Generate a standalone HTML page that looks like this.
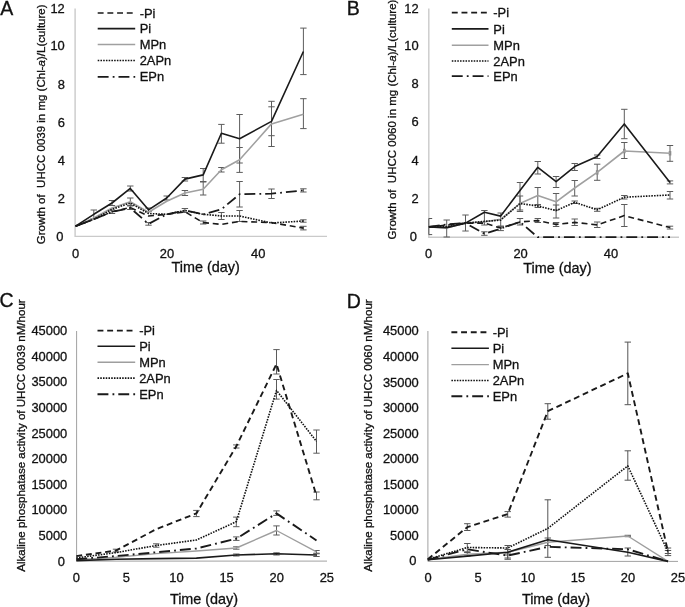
<!DOCTYPE html>
<html lang="en">
<head>
<meta charset="utf-8">
<title>Figure</title>
<style>
html,body{margin:0;padding:0;background:#fff;}
svg{display:block;}
svg text{font-family:"Liberation Sans", Arial, Helvetica, sans-serif;fill:#111;stroke:#111;stroke-width:0.3px;}
</style>
</head>
<body>
<svg width="685" height="607" viewBox="0 0 685 607">
<rect width="685" height="607" fill="#fff"/>
<text x="0.3" y="14.5" font-size="19.5" text-anchor="start">A</text>
<path d="M75.1 8.6V236.4H327.0" fill="none" stroke="#cacaca" stroke-width="1.4"/>
<text x="64.8" y="12.6" font-size="12.9" text-anchor="end">12</text>
<text x="64.8" y="49.5" font-size="12.9" text-anchor="end">10</text>
<text x="64.8" y="88.6" font-size="12.9" text-anchor="end">8</text>
<text x="64.8" y="126.6" font-size="12.9" text-anchor="end">6</text>
<text x="64.8" y="164.6" font-size="12.9" text-anchor="end">4</text>
<text x="64.8" y="202.6" font-size="12.9" text-anchor="end">2</text>
<text x="63.5" y="240.5" font-size="12.9" text-anchor="end">0</text>
<text x="75.5" y="257.9" font-size="12.9" text-anchor="middle">0</text>
<text x="167.0" y="257.9" font-size="12.9" text-anchor="middle">20</text>
<text x="258.2" y="257.9" font-size="12.9" text-anchor="middle">40</text>
<text x="205.7" y="271.7" font-size="14.4" text-anchor="middle">Time (day)</text>
<text transform="translate(44.7,244.2) rotate(-90)" font-size="11.5" textLength="239.8" lengthAdjust="spacingAndGlyphs" xml:space="preserve">Growth of  UHCC 0039 in mg (Chl-<tspan font-style="italic">a</tspan>)/L(culture)</text>
<path d="M93.8 210.0V218.5M90.6 210.0h6.4M90.6 218.5h6.4" fill="none" stroke="#5c5c5c" stroke-width="1"/>
<path d="M112.0 200.5V205.5M108.8 200.5h6.4M108.8 205.5h6.4" fill="none" stroke="#5c5c5c" stroke-width="1"/>
<path d="M130.3 186.0V191.0M127.1 186.0h6.4M127.1 191.0h6.4" fill="none" stroke="#5c5c5c" stroke-width="1"/>
<path d="M148.5 208.0V211.5M145.3 208.0h6.4M145.3 211.5h6.4" fill="none" stroke="#5c5c5c" stroke-width="1"/>
<path d="M166.7 196.0V200.0M163.5 196.0h6.4M163.5 200.0h6.4" fill="none" stroke="#5c5c5c" stroke-width="1"/>
<path d="M184.9 177.5V181.0M181.7 177.5h6.4M181.7 181.0h6.4" fill="none" stroke="#5c5c5c" stroke-width="1"/>
<path d="M203.2 168.5V181.5M200.0 168.5h6.4M200.0 181.5h6.4" fill="none" stroke="#5c5c5c" stroke-width="1"/>
<path d="M221.4 124.4V143.2M218.2 124.4h6.4M218.2 143.2h6.4" fill="none" stroke="#5c5c5c" stroke-width="1"/>
<path d="M239.6 114.5V163.0M236.4 114.5h6.4M236.4 163.0h6.4" fill="none" stroke="#5c5c5c" stroke-width="1"/>
<path d="M271.5 101.3V146.5M268.3 101.3h6.4M268.3 146.5h6.4" fill="none" stroke="#5c5c5c" stroke-width="1"/>
<path d="M303.4 28.1V74.6M300.2 28.1h6.4M300.2 74.6h6.4" fill="none" stroke="#5c5c5c" stroke-width="1"/>
<path d="M130.3 198.0V205.5M127.1 198.0h6.4M127.1 205.5h6.4" fill="none" stroke="#5c5c5c" stroke-width="1"/>
<path d="M184.9 190.5V195.5M181.7 190.5h6.4M181.7 195.5h6.4" fill="none" stroke="#5c5c5c" stroke-width="1"/>
<path d="M203.2 182.0V195.0M200.0 182.0h6.4M200.0 195.0h6.4" fill="none" stroke="#5c5c5c" stroke-width="1"/>
<path d="M221.4 167.5V172.0M218.2 167.5h6.4M218.2 172.0h6.4" fill="none" stroke="#5c5c5c" stroke-width="1"/>
<path d="M239.6 147.5V172.4M236.4 147.5h6.4M236.4 172.4h6.4" fill="none" stroke="#5c5c5c" stroke-width="1"/>
<path d="M271.5 106.8V135.7M268.3 106.8h6.4M268.3 135.7h6.4" fill="none" stroke="#5c5c5c" stroke-width="1"/>
<path d="M303.4 98.7V128.6M300.2 98.7h6.4M300.2 128.6h6.4" fill="none" stroke="#5c5c5c" stroke-width="1"/>
<path d="M239.6 181.5V207.0M236.4 181.5h6.4M236.4 207.0h6.4" fill="none" stroke="#5c5c5c" stroke-width="1"/>
<path d="M271.5 189.0V198.5M268.3 189.0h6.4M268.3 198.5h6.4" fill="none" stroke="#5c5c5c" stroke-width="1"/>
<path d="M303.4 188.8V192.0M300.2 188.8h6.4M300.2 192.0h6.4" fill="none" stroke="#5c5c5c" stroke-width="1"/>
<path d="M221.4 212.5V219.5M218.2 212.5h6.4M218.2 219.5h6.4" fill="none" stroke="#5c5c5c" stroke-width="1"/>
<path d="M239.6 210.5V221.5M236.4 210.5h6.4M236.4 221.5h6.4" fill="none" stroke="#5c5c5c" stroke-width="1"/>
<path d="M303.4 219.8V222.2M300.2 219.8h6.4M300.2 222.2h6.4" fill="none" stroke="#5c5c5c" stroke-width="1"/>
<path d="M303.4 226.3V229.9M300.2 226.3h6.4M300.2 229.9h6.4" fill="none" stroke="#5c5c5c" stroke-width="1"/>
<path d="M148.5 222.6V225.2M145.3 222.6h6.4M145.3 225.2h6.4" fill="none" stroke="#5c5c5c" stroke-width="1"/>
<path d="M184.9 208.5V212.5M181.7 208.5h6.4M181.7 212.5h6.4" fill="none" stroke="#5c5c5c" stroke-width="1"/>
<path d="M203.2 221.0V224.0M200.0 221.0h6.4M200.0 224.0h6.4" fill="none" stroke="#5c5c5c" stroke-width="1"/>
<path d="M112.0 210.0V213.5M108.8 210.0h6.4M108.8 213.5h6.4" fill="none" stroke="#5c5c5c" stroke-width="1"/>
<path d="M130.3 206.0V209.5M127.1 206.0h6.4M127.1 209.5h6.4" fill="none" stroke="#5c5c5c" stroke-width="1"/>
<polyline points="75.6,226.2 93.8,218.0 112.0,208.0 130.3,201.8 148.5,212.3 166.7,201.3 184.9,193.0 203.2,189.2 221.4,169.8 239.6,159.8 271.5,123.9 303.4,114.3" fill="none" stroke="#a0a0a0" stroke-width="1.6" stroke-linejoin="round"/>
<polyline points="75.6,226.2 93.8,219.3 112.0,209.3 130.3,203.0 148.5,213.5 166.7,214.3 184.9,210.5 203.2,214.3 221.4,216.0 239.6,216.0 271.5,223.0 303.4,221.0" fill="none" stroke="#111" stroke-width="1.6" stroke-linejoin="round" stroke-dasharray="1.55 1.19"/>
<polyline points="75.6,226.2 93.8,219.3 112.0,211.8 130.3,207.5 148.5,216.0 166.7,214.3 184.9,211.8 203.2,222.6 221.4,224.4 239.6,221.4 271.5,222.6 303.4,228.1" fill="none" stroke="#1a1a1a" stroke-width="1.6" stroke-linejoin="round" stroke-dasharray="5.9 3.8"/>
<polyline points="75.6,226.2 93.8,219.3 112.0,211.8 130.3,208.0 148.5,223.9 166.7,214.3 184.9,210.5 203.2,214.3 221.4,209.3 239.6,194.2 271.5,193.7 303.4,190.4" fill="none" stroke="#1a1a1a" stroke-width="1.8" stroke-linejoin="round" stroke-dasharray="10.9 4.1 1.8 4.0"/>
<polyline points="75.6,226.2 93.8,214.3 112.0,203.0 130.3,188.4 148.5,209.8 166.7,198.0 184.9,179.1 203.2,174.9 221.4,133.2 239.6,138.7 271.5,121.4 303.4,51.5" fill="none" stroke="#1a1a1a" stroke-width="1.6" stroke-linejoin="round"/>
<polyline points="97.7,13.0 135.2,13.0" fill="none" stroke="#1a1a1a" stroke-width="1.6" stroke-linejoin="round" stroke-dasharray="5.9 3.8"/>
<text x="139.7" y="17.6" font-size="12.9" text-anchor="start">-Pi</text>
<polyline points="97.7,28.6 135.2,28.6" fill="none" stroke="#1a1a1a" stroke-width="1.6" stroke-linejoin="round"/>
<text x="139.7" y="33.2" font-size="12.9" text-anchor="start">Pi</text>
<polyline points="97.7,44.5 135.2,44.5" fill="none" stroke="#a0a0a0" stroke-width="1.6" stroke-linejoin="round"/>
<text x="139.7" y="49.1" font-size="12.9" text-anchor="start">MPn</text>
<polyline points="97.7,60.5 135.2,60.5" fill="none" stroke="#111" stroke-width="1.6" stroke-linejoin="round" stroke-dasharray="1.55 1.19"/>
<text x="139.7" y="65.1" font-size="12.9" text-anchor="start">2APn</text>
<polyline points="97.7,76.8 135.2,76.8" fill="none" stroke="#1a1a1a" stroke-width="1.8" stroke-linejoin="round" stroke-dasharray="10.9 4.1 1.8 4.0"/>
<text x="139.7" y="81.4" font-size="12.9" text-anchor="start">EPn</text>
<text x="346.8" y="14.5" font-size="19.5" text-anchor="start">B</text>
<path d="M428.8 8.5V237.2H679.0" fill="none" stroke="#cacaca" stroke-width="1.4"/>
<text x="418.6" y="12.6" font-size="12.9" text-anchor="end">12</text>
<text x="418.6" y="49.6" font-size="12.9" text-anchor="end">10</text>
<text x="418.6" y="88.1" font-size="12.9" text-anchor="end">8</text>
<text x="418.6" y="126.3" font-size="12.9" text-anchor="end">6</text>
<text x="418.6" y="164.6" font-size="12.9" text-anchor="end">4</text>
<text x="418.6" y="202.6" font-size="12.9" text-anchor="end">2</text>
<text x="417.0" y="240.9" font-size="12.9" text-anchor="end">0</text>
<text x="428.5" y="258.3" font-size="12.9" text-anchor="middle">0</text>
<text x="520.6" y="258.3" font-size="12.9" text-anchor="middle">20</text>
<text x="610.9" y="258.3" font-size="12.9" text-anchor="middle">40</text>
<text x="557.4" y="272.8" font-size="14.4" text-anchor="middle">Time (day)</text>
<text transform="translate(396,239.4) rotate(-90)" font-size="11.5" textLength="239.8" lengthAdjust="spacingAndGlyphs" xml:space="preserve">Growth of  UHCC 0060 in mg (Chl-<tspan font-style="italic">a</tspan>)/L(culture)</text>
<path d="M446.7 220.0V237.0M443.5 220.0h6.4M443.5 237.0h6.4" fill="none" stroke="#5c5c5c" stroke-width="1"/>
<path d="M465.5 215.0V231.0M462.3 215.0h6.4M462.3 231.0h6.4" fill="none" stroke="#5c5c5c" stroke-width="1"/>
<path d="M484.4 210.5V225.0M481.2 210.5h6.4M481.2 225.0h6.4" fill="none" stroke="#5c5c5c" stroke-width="1"/>
<path d="M500.7 213.0V226.0M497.5 213.0h6.4M497.5 226.0h6.4" fill="none" stroke="#5c5c5c" stroke-width="1"/>
<path d="M520.0 182.5V211.5M516.8 182.5h6.4M516.8 211.5h6.4" fill="none" stroke="#5c5c5c" stroke-width="1"/>
<path d="M537.8 161.5V174.0M534.6 161.5h6.4M534.6 174.0h6.4" fill="none" stroke="#5c5c5c" stroke-width="1"/>
<path d="M556.1 176.5V187.5M552.9 176.5h6.4M552.9 187.5h6.4" fill="none" stroke="#5c5c5c" stroke-width="1"/>
<path d="M574.7 163.5V170.5M571.5 163.5h6.4M571.5 170.5h6.4" fill="none" stroke="#5c5c5c" stroke-width="1"/>
<path d="M597.2 155.0V158.5M594.0 155.0h6.4M594.0 158.5h6.4" fill="none" stroke="#5c5c5c" stroke-width="1"/>
<path d="M624.3 109.3V138.7M621.1 109.3h6.4M621.1 138.7h6.4" fill="none" stroke="#5c5c5c" stroke-width="1"/>
<path d="M670.0 180.9V183.9M666.8 180.9h6.4M666.8 183.9h6.4" fill="none" stroke="#5c5c5c" stroke-width="1"/>
<path d="M520.0 196.0V210.0M516.8 196.0h6.4M516.8 210.0h6.4" fill="none" stroke="#5c5c5c" stroke-width="1"/>
<path d="M537.8 187.5V205.0M534.6 187.5h6.4M534.6 205.0h6.4" fill="none" stroke="#5c5c5c" stroke-width="1"/>
<path d="M556.1 193.5V210.0M552.9 193.5h6.4M552.9 210.0h6.4" fill="none" stroke="#5c5c5c" stroke-width="1"/>
<path d="M574.7 180.5V196.0M571.5 180.5h6.4M571.5 196.0h6.4" fill="none" stroke="#5c5c5c" stroke-width="1"/>
<path d="M597.2 164.2V180.3M594.0 164.2h6.4M594.0 180.3h6.4" fill="none" stroke="#5c5c5c" stroke-width="1"/>
<path d="M624.3 142.5V158.5M621.1 142.5h6.4M621.1 158.5h6.4" fill="none" stroke="#5c5c5c" stroke-width="1"/>
<path d="M670.0 145.5V161.3M666.8 145.5h6.4M666.8 161.3h6.4" fill="none" stroke="#5c5c5c" stroke-width="1"/>
<path d="M556.1 205.0V218.0M552.9 205.0h6.4M552.9 218.0h6.4" fill="none" stroke="#5c5c5c" stroke-width="1"/>
<path d="M624.3 195.5V199.0M621.1 195.5h6.4M621.1 199.0h6.4" fill="none" stroke="#5c5c5c" stroke-width="1"/>
<path d="M670.0 191.5V199.0M666.8 191.5h6.4M666.8 199.0h6.4" fill="none" stroke="#5c5c5c" stroke-width="1"/>
<path d="M537.8 204.5V207.5M534.6 204.5h6.4M534.6 207.5h6.4" fill="none" stroke="#5c5c5c" stroke-width="1"/>
<path d="M597.2 208.3V211.3M594.0 208.3h6.4M594.0 211.3h6.4" fill="none" stroke="#5c5c5c" stroke-width="1"/>
<path d="M574.7 201.0V203.5M571.5 201.0h6.4M571.5 203.5h6.4" fill="none" stroke="#5c5c5c" stroke-width="1"/>
<path d="M520.0 218.5V225.0M516.8 218.5h6.4M516.8 225.0h6.4" fill="none" stroke="#5c5c5c" stroke-width="1"/>
<path d="M537.8 218.5V222.5M534.6 218.5h6.4M534.6 222.5h6.4" fill="none" stroke="#5c5c5c" stroke-width="1"/>
<path d="M556.1 222.5V226.5M552.9 222.5h6.4M552.9 226.5h6.4" fill="none" stroke="#5c5c5c" stroke-width="1"/>
<path d="M574.7 219.0V225.5M571.5 219.0h6.4M571.5 225.5h6.4" fill="none" stroke="#5c5c5c" stroke-width="1"/>
<path d="M597.2 222.0V227.5M594.0 222.0h6.4M594.0 227.5h6.4" fill="none" stroke="#5c5c5c" stroke-width="1"/>
<path d="M624.3 204.5V226.5M621.1 204.5h6.4M621.1 226.5h6.4" fill="none" stroke="#5c5c5c" stroke-width="1"/>
<path d="M670.0 226.2V229.0M666.8 226.2h6.4M666.8 229.0h6.4" fill="none" stroke="#5c5c5c" stroke-width="1"/>
<path d="M484.4 231.8V235.3M481.2 231.8h6.4M481.2 235.3h6.4" fill="none" stroke="#5c5c5c" stroke-width="1"/>
<path d="M500.7 226.6V230.6M497.5 226.6h6.4M497.5 230.6h6.4" fill="none" stroke="#5c5c5c" stroke-width="1"/>
<path d="M428.8 218.5V234.6M428.8 218.5h3.4M428.8 234.6h3.4" fill="none" stroke="#555" stroke-width="1"/>
<rect x="595.9" y="170.2" width="2.6" height="4.4" fill="#8c8c8c"/>
<rect x="623.0" y="148.8" width="2.6" height="4.4" fill="#8c8c8c"/>
<rect x="668.7" y="151.1" width="2.6" height="4.4" fill="#8c8c8c"/>
<polyline points="428.9,226.9 446.7,228.0 465.5,223.1 484.4,221.9 500.7,219.3 520.0,203.5 537.8,195.5 556.1,201.8 574.7,188.0 597.2,172.4 624.3,151.0 670.0,153.3" fill="none" stroke="#a0a0a0" stroke-width="1.6" stroke-linejoin="round"/>
<polyline points="428.9,226.9 446.7,226.9 465.5,223.1 484.4,221.4 500.7,220.1 520.0,203.5 537.8,206.0 556.1,210.6 574.7,202.3 597.2,209.8 624.3,197.2 670.0,195.0" fill="none" stroke="#111" stroke-width="1.6" stroke-linejoin="round" stroke-dasharray="1.55 1.19"/>
<polyline points="428.9,226.9 446.7,225.1 465.5,223.1 484.4,223.1 500.7,228.1 520.0,221.9 537.8,220.6 556.1,224.4 574.7,222.4 597.2,224.9 624.3,215.6 670.0,227.6" fill="none" stroke="#1a1a1a" stroke-width="1.6" stroke-linejoin="round" stroke-dasharray="5.9 3.8"/>
<polyline points="428.9,226.9 446.7,224.4 465.5,223.1 484.4,233.7 500.7,228.6 520.0,221.9 537.8,237.2 556.1,237.2 574.7,237.2 597.2,237.2 624.3,237.2 670.0,237.2" fill="none" stroke="#1a1a1a" stroke-width="1.8" stroke-linejoin="round" stroke-dasharray="10.9 4.1 1.8 4.0"/>
<polyline points="428.9,226.9 446.7,227.6 465.5,223.1 484.4,212.3 500.7,216.1 520.0,190.5 537.8,167.3 556.1,181.7 574.7,166.6 597.2,156.5 624.3,123.9 670.0,182.4" fill="none" stroke="#1a1a1a" stroke-width="1.6" stroke-linejoin="round"/>
<polyline points="451.8,12.6 488.5,12.6" fill="none" stroke="#1a1a1a" stroke-width="1.6" stroke-linejoin="round" stroke-dasharray="5.9 3.8"/>
<text x="493.3" y="17.2" font-size="12.9" text-anchor="start">-Pi</text>
<polyline points="451.8,28.9 488.5,28.9" fill="none" stroke="#1a1a1a" stroke-width="1.6" stroke-linejoin="round"/>
<text x="493.3" y="33.5" font-size="12.9" text-anchor="start">Pi</text>
<polyline points="451.8,45.2 488.5,45.2" fill="none" stroke="#a0a0a0" stroke-width="1.6" stroke-linejoin="round"/>
<text x="493.3" y="49.8" font-size="12.9" text-anchor="start">MPn</text>
<polyline points="451.8,61.0 488.5,61.0" fill="none" stroke="#111" stroke-width="1.6" stroke-linejoin="round" stroke-dasharray="1.55 1.19"/>
<text x="493.3" y="65.6" font-size="12.9" text-anchor="start">2APn</text>
<polyline points="451.8,76.1 488.5,76.1" fill="none" stroke="#1a1a1a" stroke-width="1.8" stroke-linejoin="round" stroke-dasharray="10.9 4.1 1.8 4.0"/>
<text x="493.3" y="80.7" font-size="12.9" text-anchor="start">EPn</text>
<text x="-0.4" y="307.0" font-size="19.5" text-anchor="start">C</text>
<path d="M76.6 331.0V561.1H327.0" fill="none" stroke="#a2a2a2" stroke-width="1.0"/>
<text x="67.3" y="335.2" font-size="12.9" text-anchor="end">45000</text>
<text x="67.3" y="360.8" font-size="12.9" text-anchor="end">40000</text>
<text x="67.3" y="386.4" font-size="12.9" text-anchor="end">35000</text>
<text x="67.3" y="412.0" font-size="12.9" text-anchor="end">30000</text>
<text x="67.3" y="437.6" font-size="12.9" text-anchor="end">25000</text>
<text x="67.3" y="463.2" font-size="12.9" text-anchor="end">20000</text>
<text x="67.3" y="488.8" font-size="12.9" text-anchor="end">15000</text>
<text x="67.3" y="514.4" font-size="12.9" text-anchor="end">10000</text>
<text x="67.3" y="540.0" font-size="12.9" text-anchor="end">5000</text>
<text x="65.0" y="565.6" font-size="12.9" text-anchor="end">0</text>
<text x="76.3" y="582.3" font-size="12.9" text-anchor="middle">0</text>
<text x="126.4" y="582.3" font-size="12.9" text-anchor="middle">5</text>
<text x="176.5" y="582.3" font-size="12.9" text-anchor="middle">10</text>
<text x="226.6" y="582.3" font-size="12.9" text-anchor="middle">15</text>
<text x="276.7" y="582.3" font-size="12.9" text-anchor="middle">20</text>
<text x="326.8" y="582.3" font-size="12.9" text-anchor="middle">25</text>
<text x="204.0" y="603.6" font-size="14.4" text-anchor="middle">Time (day)</text>
<text transform="translate(25,571.8) rotate(-90)" font-size="11.5" textLength="272.5" lengthAdjust="spacingAndGlyphs">Alkaline phosphatase activity of UHCC 0039 nM/hour</text>
<path d="M276.5 349.6V374.0M273.3 349.6h6.4M273.3 374.0h6.4" fill="none" stroke="#5c5c5c" stroke-width="1"/>
<path d="M276.5 379.5V399.1M273.3 379.5h6.4M273.3 399.1h6.4" fill="none" stroke="#5c5c5c" stroke-width="1"/>
<path d="M316.5 430.0V453.2M313.3 430.0h6.4M313.3 453.2h6.4" fill="none" stroke="#5c5c5c" stroke-width="1"/>
<path d="M236.3 444.9V448.0M233.1 444.9h6.4M233.1 448.0h6.4" fill="none" stroke="#5c5c5c" stroke-width="1"/>
<path d="M196.4 510.4V516.6M193.2 510.4h6.4M193.2 516.6h6.4" fill="none" stroke="#5c5c5c" stroke-width="1"/>
<path d="M276.5 510.9V515.4M273.3 510.9h6.4M273.3 515.4h6.4" fill="none" stroke="#5c5c5c" stroke-width="1"/>
<path d="M276.5 525.9V535.0M273.3 525.9h6.4M273.3 535.0h6.4" fill="none" stroke="#5c5c5c" stroke-width="1"/>
<path d="M316.5 492.0V499.8M313.3 492.0h6.4M313.3 499.8h6.4" fill="none" stroke="#5c5c5c" stroke-width="1"/>
<path d="M236.3 517.1V526.7M233.1 517.1h6.4M233.1 526.7h6.4" fill="none" stroke="#5c5c5c" stroke-width="1"/>
<path d="M236.3 536.9V540.4M233.1 536.9h6.4M233.1 540.4h6.4" fill="none" stroke="#5c5c5c" stroke-width="1"/>
<path d="M156.2 543.8V547.2M153.0 543.8h6.4M153.0 547.2h6.4" fill="none" stroke="#5c5c5c" stroke-width="1"/>
<path d="M116.0 549.2V552.0M112.8 549.2h6.4M112.8 552.0h6.4" fill="none" stroke="#5c5c5c" stroke-width="1"/>
<path d="M236.3 546.8V549.2M233.1 546.8h6.4M233.1 549.2h6.4" fill="none" stroke="#5c5c5c" stroke-width="1"/>
<path d="M316.5 550.5V553.2M313.3 550.5h6.4M313.3 553.2h6.4" fill="none" stroke="#5c5c5c" stroke-width="1"/>
<path d="M316.5 553.8V556.5M313.3 553.8h6.4M313.3 556.5h6.4" fill="none" stroke="#5c5c5c" stroke-width="1"/>
<path d="M276.5 552.8V555.0M273.3 552.8h6.4M273.3 555.0h6.4" fill="none" stroke="#5c5c5c" stroke-width="1"/>
<path d="M236.3 554.0V556.0M233.1 554.0h6.4M233.1 556.0h6.4" fill="none" stroke="#5c5c5c" stroke-width="1"/>
<polyline points="76.3,560.0 116.0,557.3 156.2,553.6 196.4,551.0 236.3,548.0 276.5,530.5 316.5,551.8" fill="none" stroke="#9e9e9e" stroke-width="1.4" stroke-linejoin="round"/>
<polyline points="76.3,558.0 116.0,552.6 156.2,545.5 196.4,540.0 236.3,521.7 276.5,390.4 316.5,441.4" fill="none" stroke="#111" stroke-width="1.6" stroke-linejoin="round" stroke-dasharray="1.55 1.19"/>
<polyline points="76.3,556.1 116.0,550.6 156.2,529.2 196.4,513.4 236.3,446.3 276.5,364.0 316.5,495.8" fill="none" stroke="#1a1a1a" stroke-width="1.9" stroke-linejoin="round" stroke-dasharray="5.9 3.8"/>
<polyline points="76.3,559.3 116.0,556.0 156.2,552.3 196.4,548.5 236.3,538.7 276.5,513.4 316.5,540.5" fill="none" stroke="#1a1a1a" stroke-width="1.9" stroke-linejoin="round" stroke-dasharray="10.9 4.1 1.8 4.0"/>
<polyline points="76.3,560.6 116.0,559.3 156.2,558.6 196.4,558.1 236.3,555.0 276.5,553.8 316.5,555.0" fill="none" stroke="#1a1a1a" stroke-width="1.6" stroke-linejoin="round"/>
<polyline points="97.5,330.6 135.2,330.6" fill="none" stroke="#1a1a1a" stroke-width="1.9" stroke-linejoin="round" stroke-dasharray="5.9 3.8"/>
<text x="139.2" y="335.2" font-size="12.9" text-anchor="start">-Pi</text>
<polyline points="97.5,346.3 135.2,346.3" fill="none" stroke="#1a1a1a" stroke-width="1.6" stroke-linejoin="round"/>
<text x="139.2" y="350.9" font-size="12.9" text-anchor="start">Pi</text>
<polyline points="97.5,362.3 135.2,362.3" fill="none" stroke="#9e9e9e" stroke-width="1.4" stroke-linejoin="round"/>
<text x="139.2" y="366.9" font-size="12.9" text-anchor="start">MPn</text>
<polyline points="97.5,378.1 135.2,378.1" fill="none" stroke="#111" stroke-width="1.6" stroke-linejoin="round" stroke-dasharray="1.55 1.19"/>
<text x="139.2" y="382.7" font-size="12.9" text-anchor="start">2APn</text>
<polyline points="97.5,394.3 135.2,394.3" fill="none" stroke="#1a1a1a" stroke-width="1.9" stroke-linejoin="round" stroke-dasharray="10.9 4.1 1.8 4.0"/>
<text x="139.2" y="398.9" font-size="12.9" text-anchor="start">EPn</text>
<text x="346.8" y="307.7" font-size="19.5" text-anchor="start">D</text>
<path d="M427.9 331.0V561.4H678.0" fill="none" stroke="#a2a2a2" stroke-width="1.0"/>
<text x="418.8" y="335.4" font-size="12.9" text-anchor="end">45000</text>
<text x="418.8" y="360.9" font-size="12.9" text-anchor="end">40000</text>
<text x="418.8" y="386.5" font-size="12.9" text-anchor="end">35000</text>
<text x="418.8" y="412.1" font-size="12.9" text-anchor="end">30000</text>
<text x="418.8" y="437.6" font-size="12.9" text-anchor="end">25000</text>
<text x="418.8" y="463.1" font-size="12.9" text-anchor="end">20000</text>
<text x="418.8" y="488.7" font-size="12.9" text-anchor="end">15000</text>
<text x="418.8" y="514.2" font-size="12.9" text-anchor="end">10000</text>
<text x="418.8" y="539.8" font-size="12.9" text-anchor="end">5000</text>
<text x="416.5" y="565.4" font-size="12.9" text-anchor="end">0</text>
<text x="428.0" y="582.3" font-size="12.9" text-anchor="middle">0</text>
<text x="478.0" y="582.3" font-size="12.9" text-anchor="middle">5</text>
<text x="528.0" y="582.3" font-size="12.9" text-anchor="middle">10</text>
<text x="578.0" y="582.3" font-size="12.9" text-anchor="middle">15</text>
<text x="628.0" y="582.3" font-size="12.9" text-anchor="middle">20</text>
<text x="678.0" y="582.3" font-size="12.9" text-anchor="middle">25</text>
<text x="556.0" y="603.6" font-size="14.4" text-anchor="middle">Time (day)</text>
<text transform="translate(372,571.8) rotate(-90)" font-size="11.5" textLength="272.5" lengthAdjust="spacingAndGlyphs">Alkaline phosphatase activity of UHCC 0060 nM/hour</text>
<path d="M467.3 523.7V530.5M464.1 523.7h6.4M464.1 530.5h6.4" fill="none" stroke="#555" stroke-width="1"/>
<path d="M507.7 511.6V517.1M504.5 511.6h6.4M504.5 517.1h6.4" fill="none" stroke="#555" stroke-width="1"/>
<path d="M547.8 403.7V419.2M544.6 403.7h6.4M544.6 419.2h6.4" fill="none" stroke="#555" stroke-width="1"/>
<path d="M627.8 342.1V404.7M624.6 342.1h6.4M624.6 404.7h6.4" fill="none" stroke="#555" stroke-width="1"/>
<path d="M467.3 543.5V551.8M464.1 543.5h6.4M464.1 551.8h6.4" fill="none" stroke="#555" stroke-width="1"/>
<path d="M507.7 545.5V559.3M504.5 545.5h6.4M504.5 559.3h6.4" fill="none" stroke="#555" stroke-width="1"/>
<path d="M547.8 499.8V557.3M544.6 499.8h6.4M544.6 557.3h6.4" fill="none" stroke="#555" stroke-width="1"/>
<path d="M627.8 450.8V480.2M624.6 450.8h6.4M624.6 480.2h6.4" fill="none" stroke="#555" stroke-width="1"/>
<path d="M627.8 548.0V556.0M624.6 548.0h6.4M624.6 556.0h6.4" fill="none" stroke="#555" stroke-width="1"/>
<path d="M668.0 548.0V555.6M664.8 548.0h6.4M664.8 555.6h6.4" fill="none" stroke="#555" stroke-width="1"/>
<path d="M668.0 550.5V553.5M664.8 550.5h6.4M664.8 553.5h6.4" fill="none" stroke="#555" stroke-width="1"/>
<path d="M467.3 552.5V556.0M464.1 552.5h6.4M464.1 556.0h6.4" fill="none" stroke="#555" stroke-width="1"/>
<path d="M507.7 549.5V555.0M504.5 549.5h6.4M504.5 555.0h6.4" fill="none" stroke="#555" stroke-width="1"/>
<path d="M547.8 538.0V545.5M544.6 538.0h6.4M544.6 545.5h6.4" fill="none" stroke="#555" stroke-width="1"/>
<path d="M507.7 553.0V558.0M504.5 553.0h6.4M504.5 558.0h6.4" fill="none" stroke="#555" stroke-width="1"/>
<path d="M627.8 535.3V536.7M624.6 535.3h6.4M624.6 536.7h6.4" fill="none" stroke="#555" stroke-width="1"/>
<polyline points="427.8,559.8 467.3,554.3 507.7,552.3 547.8,542.3 627.8,536.0 668.0,561.4" fill="none" stroke="#9e9e9e" stroke-width="1.4" stroke-linejoin="round"/>
<polyline points="427.8,559.3 467.3,547.5 507.7,548.0 547.8,528.4 627.8,465.9 668.0,551.8" fill="none" stroke="#111" stroke-width="1.6" stroke-linejoin="round" stroke-dasharray="1.55 1.19"/>
<polyline points="427.8,559.3 467.3,527.2 507.7,514.1 547.8,411.2 627.8,373.3 668.0,551.8" fill="none" stroke="#1a1a1a" stroke-width="1.9" stroke-linejoin="round" stroke-dasharray="5.9 3.8"/>
<polyline points="427.8,559.8 467.3,549.3 507.7,555.6 547.8,546.8 627.8,549.3 668.0,561.4" fill="none" stroke="#1a1a1a" stroke-width="1.9" stroke-linejoin="round" stroke-dasharray="10.9 4.1 1.8 4.0"/>
<polyline points="427.8,559.8 467.3,556.1 507.7,552.3 547.8,539.7 627.8,552.3 668.0,561.4" fill="none" stroke="#1a1a1a" stroke-width="1.6" stroke-linejoin="round"/>
<polyline points="451.4,332.2 488.9,332.2" fill="none" stroke="#1a1a1a" stroke-width="1.9" stroke-linejoin="round" stroke-dasharray="5.9 3.8"/>
<text x="492.7" y="336.8" font-size="12.9" text-anchor="start">-Pi</text>
<polyline points="451.4,348.3 488.9,348.3" fill="none" stroke="#1a1a1a" stroke-width="1.6" stroke-linejoin="round"/>
<text x="492.7" y="352.9" font-size="12.9" text-anchor="start">Pi</text>
<polyline points="451.4,364.6 488.9,364.6" fill="none" stroke="#9e9e9e" stroke-width="1.4" stroke-linejoin="round"/>
<text x="492.7" y="369.2" font-size="12.9" text-anchor="start">MPn</text>
<polyline points="451.4,380.5 488.9,380.5" fill="none" stroke="#111" stroke-width="1.6" stroke-linejoin="round" stroke-dasharray="1.55 1.19"/>
<text x="492.7" y="385.1" font-size="12.9" text-anchor="start">2APn</text>
<polyline points="451.4,396.3 488.9,396.3" fill="none" stroke="#1a1a1a" stroke-width="1.9" stroke-linejoin="round" stroke-dasharray="10.9 4.1 1.8 4.0"/>
<text x="492.7" y="400.9" font-size="12.9" text-anchor="start">EPn</text>
</svg>
</body>
</html>
